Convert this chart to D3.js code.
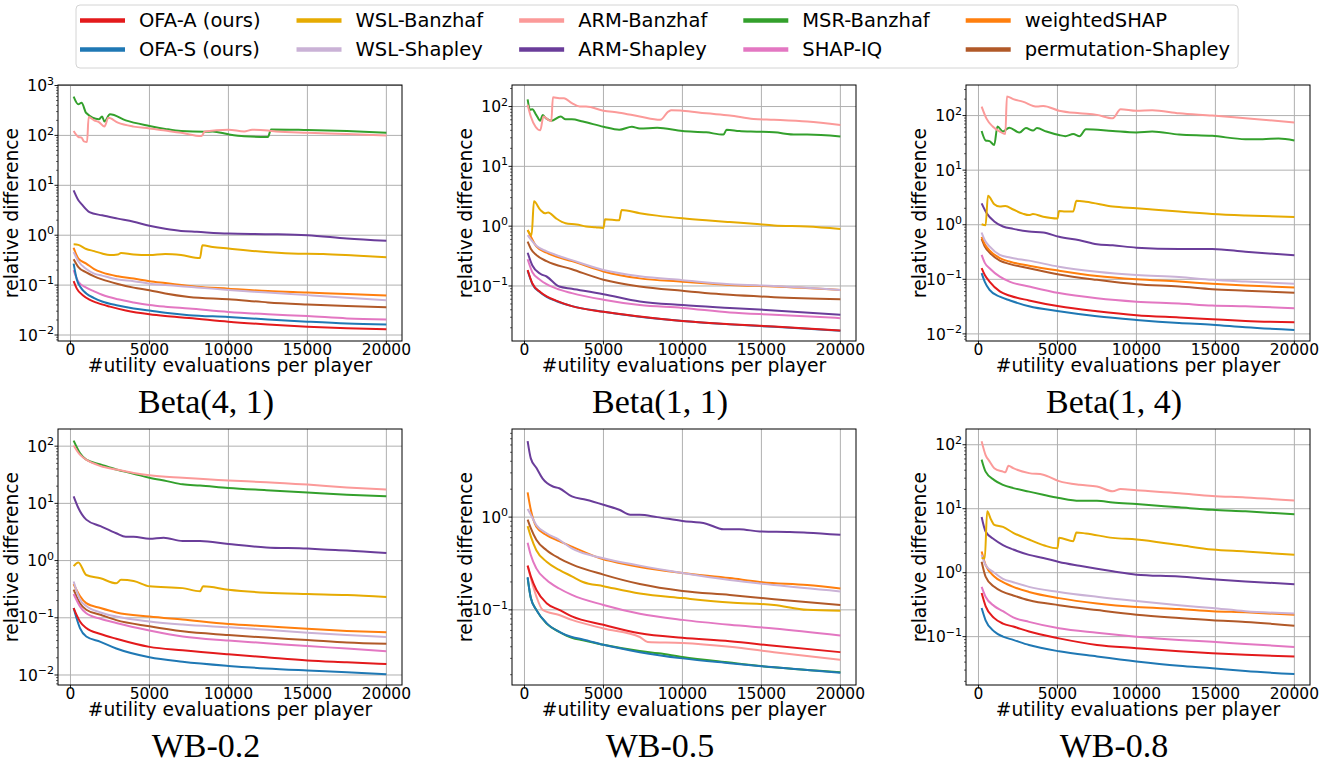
<!DOCTYPE html>
<html>
<head>
<meta charset="utf-8">
<script src="https://cdn.jsdelivr.net/npm/d3@7"></script>
<style>
  body { margin: 0; background: #fff; }
  svg { display: block; font-family: "DejaVu Sans", sans-serif; }
</style>
</head>
<body>
<svg id="chart"></svg>
<script>
window.onload = function(){
    makeCharts();
};

const WIDTH = 1321;
const HEIGHT = 761;

// methods, in legend order (column-wise, 5 columns of 2)
const methods = ["OFA-A (ours)", "OFA-S (ours)", "WSL-Banzhaf", "WSL-Shapley", "ARM-Banzhaf",
                 "ARM-Shapley", "MSR-Banzhaf", "SHAP-IQ", "weightedSHAP", "permutation-Shapley"];
const colors = ["#e31a1c", "#1f78b4", "#e6ab02", "#cab2d6", "#fb9a99",
                "#6a3d9a", "#33a02c", "#e377c2", "#ff7f0e", "#b15928"];

const panelTitles = ["Beta(4, 1)", "Beta(1, 1)", "Beta(1, 4)", "WB-0.2", "WB-0.5", "WB-0.8"];
const xTicks = [0, 5000, 10000, 15000, 20000];
// log10 limits of each y axis
const yLimits = [[-2.12, 3.01], [-1.92, 2.36], [-2.13, 2.56], [-2.175, 2.30], [-1.81, 0.95], [-1.756, 2.246]];

// each panel: one [x, relative difference] list per method, same order as methods
const beta41 = [
  [[200,.12],[400,.085],[800,.062],[1200,.051],[1700,.044],[2500,.037],[3500,.031],[5000,.026],[6000,.024],[7500,.022],[10000,.0185],[12500,.0163],[15000,.0147],[17500,.0136],[20000,.013]],
  [[200,.27],[400,.13],[700,.085],[1000,.068],[1500,.055],[2000,.047],[3000,.039],[4000,.034],[5000,.031],[6000,.028],[7500,.025],[10000,.023],[12500,.0205],[15000,.0185],[17500,.017],[20000,.0163]],
  [[200,.66],[500,.64],[1000,.53],[1500,.48],[2000,.43],[2500,.40],[3000,.41],[3200,.44],[4000,.41],[5000,.40],[6000,.42],[7000,.40],[8200,.35],[8350,.63],[9000,.58],[10000,.54],[12000,.47],[14000,.43],[16000,.42],[18000,.39],[20000,.36]],
  [[200,.46],[500,.3],[1000,.21],[1500,.17],[2000,.155],[3000,.13],[4000,.12],[5000,.107],[6000,.1],[8000,.09],[10000,.08],[12500,.071],[15000,.063],[17500,.056],[20000,.05]],
  [[200,122],[500,93],[700,90],[850,76],[1050,74],[1150,235],[1500,200],[1800,185],[2150,150],[2400,225],[3000,180],[4000,150],[5000,138],[6000,125],[7000,113],[8300,97],[8500,120],[10000,130],[11000,120],[11500,130],[12500,125],[13000,120],[15000,113],[17500,107],[20000,100]],
  [[200,7.9],[500,5],[700,4.2],[1200,2.9],[2000,2.5],[3000,2.15],[4000,1.86],[5000,1.55],[6000,1.35],[7000,1.22],[8000,1.17],[10000,1.08],[12500,1.05],[15000,1.0],[17500,.86],[20000,.77]],
  [[200,600],[500,420],[700,450],[1000,280],[1800,210],[2000,240],[2150,190],[2500,265],[3500,200],[5000,155],[6000,135],[7000,122],[8500,118],[9000,120],[10000,105],[11000,96],[12500,93],[12700,132],[15000,128],[17500,122],[20000,113]],
  [[200,.2],[500,.117],[1000,.089],[1500,.075],[2000,.064],[3000,.052],[4000,.045],[5000,.04],[6000,.037],[7500,.034],[10000,.029],[12500,.026],[15000,.024],[17500,.0215],[20000,.0205]],
  [[200,.56],[500,.34],[1000,.27],[1500,.21],[2000,.18],[3000,.15],[4000,.135],[5000,.12],[6000,.11],[8000,.093],[10000,.085],[12500,.076],[15000,.071],[17500,.066],[20000,.062]],
  [[200,.33],[500,.23],[1000,.18],[1500,.15],[2000,.13],[3000,.105],[4000,.089],[5000,.079],[6000,.068],[7500,.058],[10000,.052],[12500,.045],[15000,.041],[17500,.038],[20000,.036]]
];

const beta11 = [
  [[200,.185],[500,.11],[1000,.079],[1400,.067],[2000,.057],[3000,.046],[5000,.037],[7300,.031],[10000,.026],[13000,.023],[15800,.021],[20000,.018]],
  [[200,.18],[500,.108],[1000,.078],[1400,.066],[2000,.056],[3000,.046],[5000,.037],[7300,.0305],[10000,.026],[13000,.0228],[15800,.0208],[20000,.0178]],
  [[200,.86],[450,.71],[600,2.6],[1000,1.87],[1300,1.64],[1500,1.7],[2000,1.35],[2600,1.12],[3300,1.07],[3900,.99],[4500,.96],[5000,.93],[5100,1.3],[6000,1.25],[6150,1.87],[7300,1.65],[8400,1.5],[10000,1.35],[11500,1.25],[13000,1.17],[14500,1.1],[15800,1.03],[17900,.99],[20000,.9]],
  [[200,.71],[400,.6],[750,.47],[1400,.38],[2000,.33],[3000,.27],[5000,.185],[7300,.145],[10000,.125],[13000,.107],[15800,.1],[20000,.086]],
  [[200,107],[400,68],[700,46],[1000,40],[1200,68],[1500,60],[1700,57],[1800,143],[2200,138],[2500,138],[3000,114],[3500,100],[3900,100],[5000,85],[6000,79],[7300,68],[8600,60],[9100,82],[9300,87],[10000,85],[11500,77],[13000,71],[14500,62],[15800,60],[17900,56],[20000,49]],
  [[200,.36],[500,.22],[1000,.16],[1400,.144],[2200,.098],[3000,.09],[5000,.073],[7300,.055],[10000,.048],[13000,.043],[15800,.039],[20000,.033]],
  [[200,132],[350,88],[500,90],[750,72],[1000,58],[1150,72],[1350,64],[1700,58],[2300,68],[2600,61],[3000,61],[3700,56],[5000,46],[6000,41],[6800,46],[7300,43],[8400,44],[10000,39],[11500,37],[12600,34],[12800,41],[13600,39],[14700,38],[15800,37],[17200,34],[17900,34],[20000,31.5]],
  [[200,.28],[500,.17],[1000,.126],[2000,.091],[3000,.076],[5000,.059],[7300,.048],[10000,.043],[13000,.036],[15800,.033],[20000,.029]],
  [[200,.86],[400,.67],[750,.46],[1400,.36],[2000,.31],[3000,.26],[5000,.175],[7300,.134],[10000,.118],[13000,.104],[15800,.098],[20000,.086]],
  [[200,.55],[400,.42],[750,.33],[1400,.26],[3000,.19],[5000,.127],[7300,.098],[10000,.083],[13000,.071],[15800,.065],[20000,.06]]
];

const beta14 = [
  [[200,.16],[400,.12],[700,.091],[1350,.06],[2000,.05],[3200,.041],[5100,.032],[7500,.026],[10000,.022],[12700,.02],[14800,.0186],[16900,.0173],[20000,.0163]],
  [[200,.13],[400,.09],[700,.064],[1350,.048],[2000,.041],[3200,.032],[5100,.026],[7500,.021],[10000,.018],[12700,.0158],[14800,.0147],[16900,.0132],[20000,.0118]],
  [[200,1.02],[450,.98],[600,3.4],[1000,2.37],[1350,2.15],[1700,2.2],[2200,1.9],[2800,1.6],[3200,1.5],[3450,1.57],[4100,1.4],[5000,1.3],[5100,1.78],[5500,1.75],[6000,1.75],[6200,2.74],[6800,2.65],[8500,2.15],[10000,2.0],[11000,1.9],[12700,1.74],[14800,1.58],[16900,1.48],[20000,1.38]],
  [[200,.72],[400,.52],[700,.4],[1350,.28],[2000,.25],[3200,.22],[5100,.17],[7500,.138],[10000,.12],[12700,.11],[14800,.098],[16900,.091],[20000,.083]],
  [[200,146],[500,89],[900,63],[1350,51],[1700,46],[1800,223],[2200,200],[2800,180],[3700,146],[4100,150],[5100,123],[6400,110],[7500,103],[8500,89],[9000,131],[10000,122],[11000,125],[12700,110],[14800,100],[16900,89],[20000,75]],
  [[200,2.47],[500,1.66],[1000,1.15],[1550,.93],[2200,.84],[3200,.75],[4100,.72],[5100,.6],[6400,.52],[7500,.44],[8500,.42],[10000,.38],[12700,.36],[14800,.36],[16900,.32],[20000,.275]],
  [[200,52],[450,35],[700,34],[1000,29],[1200,63],[1550,51],[1950,60],[2600,49],[3000,59],[3450,53],[3700,59],[4300,51],[5100,44],[5500,42],[6000,46],[6400,42],[6800,56],[8500,52],[10000,49],[11000,51],[12700,45],[14800,42.5],[16900,37],[18000,37],[19000,38],[20000,35]],
  [[200,.28],[400,.2],[700,.16],[1350,.112],[2000,.09],[3200,.074],[5100,.056],[7500,.045],[10000,.039],[12700,.036],[14800,.033],[16900,.032],[20000,.0295]],
  [[200,.6],[400,.44],[700,.34],[1350,.245],[2000,.21],[3200,.178],[5100,.144],[7500,.115],[10000,.1],[12700,.091],[14800,.083],[16900,.077],[20000,.071]],
  [[200,.55],[400,.4],[700,.31],[1350,.22],[2000,.19],[3200,.16],[5100,.123],[7500,.098],[10000,.081],[12700,.074],[14800,.066],[16900,.062],[20000,.057]]
];

const wb02 = [
  [[200,.148],[400,.11],[600,.086],[1000,.066],[1900,.052],[2900,.043],[5000,.031],[7100,.027],[10000,.023],[12400,.0204],[15000,.018],[17500,.0167],[20000,.0155]],
  [[200,.148],[400,.095],[600,.066],[1000,.047],[1900,.038],[2900,.029],[5000,.0204],[7100,.017],[10000,.0144],[12400,.013],[15000,.012],[17500,.0112],[20000,.0103]],
  [[200,.8],[500,.93],[1000,.56],[1900,.49],[2900,.4],[3200,.46],[4000,.44],[5000,.355],[7100,.33],[8200,.29],[8400,.355],[10000,.31],[12400,.275],[15000,.26],[17500,.25],[20000,.23]],
  [[200,.43],[400,.29],[600,.21],[1000,.16],[1900,.124],[2900,.105],[5000,.086],[7100,.076],[10000,.068],[12400,.062],[15000,.055],[17500,.05],[20000,.046]],
  [[200,103],[600,71],[1000,58],[1900,45],[2900,39],[4000,34],[5000,31],[7100,28],[10000,25],[12400,23.5],[15000,21.3],[17500,19],[20000,17.4]],
  [[200,13.3],[500,8.3],[1000,5.2],[1900,4.0],[2900,3.0],[3500,2.6],[4000,2.6],[5000,2.4],[5900,2.5],[7100,2.2],[8200,2.2],[10000,1.95],[12400,1.7],[15000,1.62],[16000,1.56],[17500,1.5],[20000,1.35]],
  [[200,125],[600,76],[1000,58],[1900,48],[2900,39],[4000,33],[5000,28],[6100,24.5],[7100,21.5],[8200,20.5],[10000,18.6],[12400,17],[15000,15.5],[17500,14.2],[20000,13.3]],
  [[200,.26],[400,.2],[600,.158],[1000,.12],[1900,.096],[2900,.081],[5000,.06],[7100,.047],[10000,.04],[12400,.036],[15000,.032],[17500,.029],[20000,.026]],
  [[200,.39],[400,.3],[600,.24],[1000,.18],[1900,.148],[2900,.124],[5000,.105],[7100,.093],[10000,.078],[12400,.071],[15000,.064],[17500,.059],[20000,.056]],
  [[200,.31],[400,.23],[600,.18],[1000,.138],[1900,.113],[2900,.091],[5000,.071],[7100,.058],[10000,.05],[12400,.045],[15000,.041],[17500,.037],[20000,.035]]
];

const wb05 = [
  [[200,.3],[400,.23],[750,.165],[1400,.118],[2200,.1],[3000,.085],[5000,.069],[7300,.056],[10000,.05],[13000,.046],[15800,.041],[20000,.035]],
  [[200,.225],[400,.134],[750,.1],[1400,.072],[2200,.058],[3000,.051],[3700,.048],[5000,.042],[7300,.035],[10000,.03],[13000,.0266],[15800,.024],[20000,.021]],
  [[200,.8],[400,.62],[750,.44],[1400,.33],[2200,.27],[3000,.23],[3700,.2],[5000,.18],[7300,.15],[10000,.134],[13000,.12],[15800,.113],[17900,.1],[20000,.098]],
  [[200,1.22],[400,1.06],[750,.82],[1400,.67],[2200,.57],[3000,.46],[5000,.36],[7300,.3],[10000,.25],[13000,.21],[15800,.185],[20000,.158]],
  [[200,.3],[400,.22],[750,.14],[1150,.1],[2200,.088],[3000,.078],[5000,.063],[7300,.051],[7800,.045],[10000,.044],[13000,.04],[15800,.035],[20000,.029]],
  [[200,6.6],[400,4.3],[750,3.4],[1150,2.6],[1800,2.14],[2200,2.05],[3000,1.67],[3900,1.54],[5000,1.36],[6000,1.2],[6700,1.06],[7300,1.06],[8400,1.0],[10000,.91],[11500,.85],[12600,.74],[13600,.74],[14900,.7],[16800,.69],[17900,.68],[20000,.645]],
  [[200,.22],[400,.135],[750,.1],[1400,.071],[2200,.058],[3000,.05],[3700,.047],[5000,.042],[7300,.036],[8500,.034],[10000,.031],[13000,.027],[15800,.024],[20000,.0212]],
  [[200,.53],[400,.39],[750,.28],[1400,.21],[2200,.17],[3000,.145],[5000,.113],[7300,.091],[10000,.078],[13000,.069],[15800,.063],[20000,.053]],
  [[200,1.85],[400,1.2],[750,.79],[1400,.64],[2200,.55],[3000,.48],[5000,.35],[6000,.32],[7300,.29],[10000,.25],[13000,.22],[14900,.2],[17900,.185],[20000,.17]],
  [[200,.94],[400,.76],[750,.57],[1400,.44],[2200,.36],[3000,.31],[5000,.24],[7300,.19],[10000,.16],[13000,.145],[15800,.13],[20000,.113]]
];

const wb08 = [
  [[200,.48],[450,.3],[1000,.195],[1550,.16],[2200,.144],[3200,.12],[5100,.094],[7500,.074],[10000,.066],[12700,.059],[14800,.055],[16900,.052],[20000,.049]],
  [[200,.28],[450,.18],[1000,.12],[1550,.1],[2200,.089],[3200,.074],[5100,.059],[7500,.049],[10000,.041],[12700,.035],[14800,.032],[16900,.029],[20000,.026]],
  [[200,1.7],[400,1.68],[550,9.1],[800,6.7],[1000,5.6],[1550,5.2],[2200,4.2],[3200,3.3],[4100,2.7],[4300,2.6],[5000,2.4],[5100,3.5],[6000,3.1],[6200,4.25],[6800,4.1],[8500,3.5],[10000,3.3],[12700,2.7],[14800,2.3],[16900,2.15],[20000,1.9]],
  [[200,1.9],[450,1.32],[1000,1.0],[1550,.8],[2200,.71],[3200,.6],[5100,.5],[7500,.42],[10000,.36],[12700,.31],[14800,.28],[16900,.25],[20000,.23]],
  [[200,113],[450,69],[700,55],[1000,43],[1550,38],[1700,37],[1900,47],[2200,43],[3200,36],[4100,34],[5100,27],[6400,23.6],[7500,22.3],[8500,18.7],[9000,20.3],[10000,19.4],[12700,17.5],[14800,15.8],[16900,15],[20000,13.4]],
  [[200,7.4],[450,4.4],[1000,3.3],[1550,2.7],[2200,2.3],[3200,1.9],[4100,1.7],[5100,1.47],[6400,1.28],[7500,1.15],[8500,1.05],[10000,.93],[12700,.87],[14800,.79],[16900,.73],[20000,.66]],
  [[200,58.5],[450,38],[1000,28],[1550,23.6],[2200,21],[3200,18.5],[4100,16.5],[5100,14.7],[6400,13.3],[7500,13.3],[8500,12.5],[10000,11.8],[12700,10.5],[14800,9.6],[16900,9.1],[20000,8.2]],
  [[200,.6],[450,.42],[1000,.3],[1550,.25],[2200,.2],[3200,.17],[5100,.135],[7500,.115],[10000,.1],[12700,.089],[14800,.083],[16900,.077],[20000,.069]],
  [[200,2.15],[450,1.32],[1000,.87],[1550,.71],[2200,.6],[3200,.5],[5100,.4],[7500,.33],[10000,.29],[12700,.27],[14800,.25],[16900,.24],[20000,.22]],
  [[200,1.48],[450,.87],[1000,.6],[1550,.5],[2200,.44],[3200,.37],[5100,.31],[7500,.26],[10000,.22],[12700,.195],[14800,.18],[16900,.17],[20000,.148]]
];

const panels = [beta41, beta11, beta14, wb02, wb05, wb08];


function makeCharts(){
    let svg = d3.select('#chart')
        .attr('width', WIDTH)
        .attr('height', HEIGHT);

    // panel geometry
    const boxLefts = [58, 512, 966];
    const boxTops = [85, 429];
    const boxW = 344, boxH = 256;
    const tickFont = 15.5, labelFont = 18.7, legendFont = 19.5;

    const supText = (e) => (e < 0 ? '\u2212' + (-e) : '' + e);

    panels.forEach((series, p) => {
        const left = boxLefts[p % 3];
        const top = boxTops[Math.floor(p / 3)];

        const x = d3.scaleLinear().domain([-790, 20990]).range([0, boxW]);
        const y = d3.scaleLog()
            .domain([Math.pow(10, yLimits[p][0]), Math.pow(10, yLimits[p][1])])
            .range([boxH, 0]);

        let g = svg.append('g').attr('transform', `translate(${left},${top})`);

        g.append('clipPath').attr('id', 'clip' + p)
            .append('rect').attr('width', boxW).attr('height', boxH);

        // decades inside the axis
        const majors = [];
        for (let k = Math.ceil(yLimits[p][0]); k <= Math.floor(yLimits[p][1]); k++) majors.push(k);
        const minors = [];
        for (let k = Math.floor(yLimits[p][0]); k <= Math.ceil(yLimits[p][1]); k++) {
            for (let m = 2; m <= 9; m++) {
                const v = m * Math.pow(10, k);
                const lv = Math.log10(v);
                if (lv > yLimits[p][0] && lv < yLimits[p][1]) minors.push(v);
            }
        }

        // grid
        g.append('g').selectAll('line').data(xTicks).enter().append('line')
            .attr('x1', d => x(d)).attr('x2', d => x(d))
            .attr('y1', 0).attr('y2', boxH)
            .style('stroke', '#b0b0b0').style('stroke-width', 1);
        g.append('g').selectAll('line').data(majors).enter().append('line')
            .attr('x1', 0).attr('x2', boxW)
            .attr('y1', d => y(Math.pow(10, d))).attr('y2', d => y(Math.pow(10, d)))
            .style('stroke', '#b0b0b0').style('stroke-width', 1);

        // series, drawn back to front so OFA-A ends on top
        const line = d3.line()
            .x(d => x(d[0]))
            .y(d => y(d[1]))
            .curve(d3.curveMonotoneX);

        g.append('g').attr('clip-path', `url(#clip${p})`)
            .selectAll('path')
            .data(series.map((s, i) => ({s: s, i: i})).reverse())
            .enter()
            .append('path')
            .attr('d', d => line(d.s))
            .style('fill', 'none')
            .style('stroke', d => colors[d.i])
            .style('stroke-width', 2)
            .style('stroke-linejoin', 'round');

        // frame
        g.append('rect').attr('width', boxW).attr('height', boxH)
            .style('fill', 'none').style('stroke', '#000').style('stroke-width', 1);

        // y ticks
        g.append('g').selectAll('line').data(majors).enter().append('line')
            .attr('x1', -3.5).attr('x2', 0)
            .attr('y1', d => y(Math.pow(10, d))).attr('y2', d => y(Math.pow(10, d)))
            .style('stroke', '#000').style('stroke-width', 0.9);
        g.append('g').selectAll('line').data(minors).enter().append('line')
            .attr('x1', -2).attr('x2', 0)
            .attr('y1', d => y(d)).attr('y2', d => y(d))
            .style('stroke', '#000').style('stroke-width', 0.6);

        let yl = g.append('g').selectAll('text').data(majors).enter().append('text')
            .attr('x', -4)
            .attr('y', d => y(Math.pow(10, d)) + 5.6)
            .attr('text-anchor', 'end')
            .style('font-size', tickFont + 'px')
            .style('fill', '#000');
        yl.append('tspan').text('10');
        yl.append('tspan')
            .attr('dy', -6.5)
            .style('font-size', '11px')
            .text(d => supText(d));

        // x ticks
        g.append('g').selectAll('line').data(xTicks).enter().append('line')
            .attr('x1', d => x(d)).attr('x2', d => x(d))
            .attr('y1', boxH).attr('y2', boxH + 3.5)
            .style('stroke', '#000').style('stroke-width', 0.9);
        g.append('g').selectAll('text').data(xTicks).enter().append('text')
            .attr('x', d => x(d))
            .attr('y', boxH + 14)
            .attr('text-anchor', 'middle')
            .style('font-size', tickFont + 'px')
            .text(d => d);

        // axis labels
        g.append('text')
            .attr('x', boxW / 2)
            .attr('y', boxH + 31)
            .attr('text-anchor', 'middle')
            .style('font-size', labelFont + 'px')
            .text('#utility evaluations per player');
        g.append('text')
            .attr('transform', `translate(-47,${boxH / 2}) rotate(-90)`)
            .attr('text-anchor', 'middle')
            .attr('dominant-baseline', 'central')
            .style('font-size', labelFont + 'px')
            .text('relative difference');

        // caption under the panel
        g.append('text')
            .attr('x', 148)
            .attr('y', boxH + 72)
            .attr('text-anchor', 'middle')
            .style('font-family', '"Liberation Serif", "DejaVu Serif", serif')
            .style('font-size', '34px')
            .text(panelTitles[p]);
    });

    // legend, 5 columns x 2 rows, filled column by column
    let legend = svg.append('g');
    let frame = legend.append('rect');
    const handleLen = 45, handleGap = 14, colGap = 36;
    const rowY = [20.5, 49.5];
    let cx = 80;
    for (let c = 0; c < 5; c++) {
        let maxW = 0;
        for (let r = 0; r < 2; r++) {
            const i = c * 2 + r;
            legend.append('line')
                .attr('x1', cx).attr('x2', cx + handleLen)
                .attr('y1', rowY[r]).attr('y2', rowY[r])
                .style('stroke', colors[i]).style('stroke-width', 4.5);
            let t = legend.append('text')
                .attr('x', cx + handleLen + handleGap)
                .attr('y', rowY[r])
                .attr('dominant-baseline', 'central')
                .style('font-size', legendFont + 'px')
                .text(methods[i]);
            maxW = Math.max(maxW, t.node().getComputedTextLength());
        }
        cx += handleLen + handleGap + maxW + (c < 4 ? colGap : 0);
    }
    frame.attr('x', 76).attr('y', 5)
        .attr('width', cx + 8 - 76).attr('height', 63)
        .attr('rx', 4)
        .style('fill', '#fff')
        .style('stroke', '#d4d4d4')
        .style('stroke-width', 1);
}
</script>
</body>
</html>
